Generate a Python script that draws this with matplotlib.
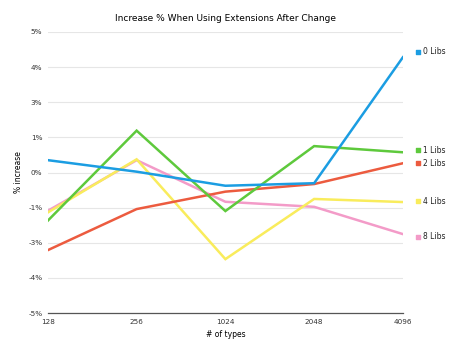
import numpy as np
import matplotlib
matplotlib.use("Agg")
import matplotlib.pyplot as plt

types = ["128", "256", "1024", "2048", "4096"]
libs0 = [0.44, 0.03, -0.47, -0.38, 4.10]
libs1 = [-1.71, 1.49, -1.37, 0.94, 0.72]
libs2 = [-2.76, -1.30, -0.68, -0.41, 0.33]
libs4 = [-1.42, 0.47, -3.08, -0.94, -1.05]
libs8 = [-1.36, 0.44, -1.04, -1.22, -2.19]

series = [("0 Libs", libs0, "#1b9de2"),
          ("1 Libs", libs1, "#5ec93c"),
          ("2 Libs", libs2, "#ec5b3f"),
          ("4 Libs", libs4, "#f9ec5c"),
          ("8 Libs", libs8, "#f39bc8")]
# legend label heights (% units), next to line ends
label_y = [4.3, 0.8, 0.33, -1.02, -2.28]

yticks = np.linspace(-5, 5, 9)

def pct(v):
    # round half away from zero, like the original labels
    r = int(np.sign(v) * np.floor(abs(v) + 0.5))
    return "%d%%" % r

fig = plt.figure(figsize=(4.74, 3.55), dpi=100)
ax = fig.add_axes([0.101, 0.118, 0.749, 0.792])
x = np.arange(len(types))

for name, vals, c in series[::-1]:
    ax.plot(x, vals, color=c, lw=1.8, solid_joinstyle="miter", zorder=3)
for (name, vals, c), ly in zip(series, label_y):
    ax.scatter([4.17], [ly], marker="s", s=6, color=c, clip_on=False)
    ax.text(4.23, ly, name, fontsize=5.5, va="center", ha="left", color="#222222")

ax.set_xlim(0, 4)
ax.set_ylim(-5, 5)
ax.set_xticks(x)
ax.set_xticklabels(types, fontsize=5.2, color="#333333")
ax.set_yticks(yticks)
ax.set_yticklabels([pct(v) for v in yticks], fontsize=5.2, color="#333333")
ax.tick_params(length=0, pad=4)
ax.grid(axis="y", color="#e6e6e6", lw=0.8, zorder=0)
for s in ["top", "right", "left"]:
    ax.spines[s].set_visible(False)
ax.spines["bottom"].set_color("#555555")
ax.spines["bottom"].set_linewidth(0.9)
ax.set_xlabel("# of types", fontsize=5.5, labelpad=4)
ax.set_ylabel("% increase", fontsize=5.5, labelpad=4)
ax.set_title("Increase % When Using Extensions After Change", fontsize=6.5, pad=8)

fig.savefig("out.png", dpi=100)
